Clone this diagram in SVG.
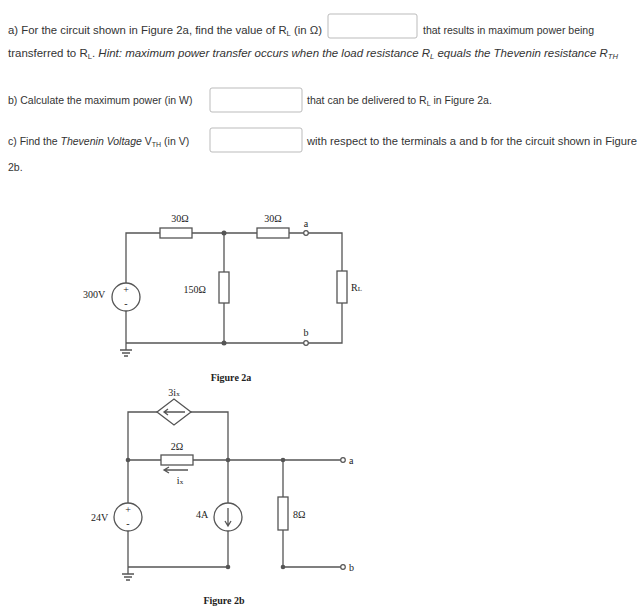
<svg xmlns="http://www.w3.org/2000/svg" width="639" height="606" viewBox="0 0 639 606">
<style>
.t{font-family:"Liberation Sans",Arial,sans-serif;font-size:10.5px;fill:#333}
.c{font-family:"Liberation Serif","Times New Roman",serif;font-size:10px;fill:#222}
.b{font-weight:bold}
.w{fill:none;stroke:#555;stroke-width:1.3}
.r{fill:#fff;stroke:#555;stroke-width:1.3}
.box{fill:#fff;stroke:#bbb;stroke-width:1}
.d{fill:#555}
.o{fill:#fff;stroke:#555;stroke-width:1.2}
</style>
<rect width="639" height="606" fill="#fff"/>
<g id="text">
<text class="t" x="8" y="34" textLength="314" lengthAdjust="spacingAndGlyphs">a) For the circuit shown in Figure 2a, find the value of R<tspan font-size="7" dy="2">L</tspan><tspan dy="-2"> (in Ω)</tspan></text>
<rect class="box" x="328" y="14" width="89" height="24" rx="2"/>
<text class="t" x="423" y="34">that results in maximum power being</text>
<text class="t" x="8" y="57" textLength="610" lengthAdjust="spacingAndGlyphs">transferred to R<tspan font-size="7" dy="2">L</tspan><tspan dy="-2">. </tspan><tspan font-style="italic">Hint: maximum power transfer occurs when the load resistance R<tspan font-size="7" dy="2">L</tspan><tspan dy="-2"> equals the Thevenin resistance R</tspan><tspan font-size="7" dy="2">TH</tspan></tspan></text>
<text class="t" x="8" y="104">b) Calculate the maximum power (in W)</text>
<rect class="box" x="210" y="88" width="92" height="24" rx="2"/>
<text class="t" x="307" y="104">that can be delivered to R<tspan font-size="7" dy="2">L</tspan><tspan dy="-2"> in Figure 2a.</tspan></text>
<text class="t" x="8" y="145">c) Find the <tspan font-style="italic">Thevenin Voltage</tspan> V<tspan font-size="7" dy="2">TH</tspan><tspan dy="-2"> (in V)</tspan></text>
<rect class="box" x="210" y="128" width="92" height="24" rx="2"/>
<text class="t" x="307" y="145" textLength="330" lengthAdjust="spacingAndGlyphs">with respect to the terminals a and b for the circuit shown in Figure</text>
<text class="t" x="8" y="171">2b.</text>
</g>
<g id="connectors">
<path class="w" d="M126,233H342V343H126Z M224,233V343 M126,343V350"/>
<path class="w" d="M120,350H132 M122,353H130 M124,356H128"/>
<path class="w" d="M128,412H228V567H128Z M128,460H343 M283,460V567 M283,567H343 M128,567V574"/>
<path class="w" d="M122,574H134 M124,577H132 M126,580H130"/>
</g>
<g id="fig2a">
<rect class="r" x="160" y="228" width="32" height="10"/>
<rect class="r" x="257" y="228" width="32" height="10"/>
<rect class="r" x="219" y="272" width="10" height="31"/>
<rect class="r" x="337" y="271" width="10" height="32"/>
<circle class="r" cx="126" cy="297" r="14"/>
<text class="c" x="126" y="293" text-anchor="middle" font-size="9">+</text>
<text class="c" x="126" y="307" text-anchor="middle" font-size="9">-</text>
<circle class="d" cx="224" cy="233" r="2.5"/>
<circle class="d" cx="224" cy="343" r="2.5"/>
<circle class="o" cx="306" cy="233" r="2.3"/>
<circle class="o" cx="306" cy="343" r="2.3"/>
<text class="c" x="180" y="222" text-anchor="middle">30Ω</text>
<text class="c" x="273" y="222" text-anchor="middle">30Ω</text>
<text class="c" x="306" y="227" text-anchor="middle">a</text>
<text class="c" x="306" y="336" text-anchor="middle">b</text>
<text class="c" x="206" y="293" text-anchor="end">150Ω</text>
<text class="c" x="83" y="298">300V</text>
<text class="c" x="351" y="291">R<tspan font-size="7">L</tspan></text>
<text class="c b" x="231" y="381" text-anchor="middle">Figure 2a</text>
</g>
<g id="fig2b">
<path class="r" d="M157,412L174,399L191,412L174,425Z"/>
<path class="w" d="M185,412H165 M168,409L164,412L168,415"/>
<rect class="r" x="161" y="455" width="32" height="10"/>
<path class="w" d="M188,470H165 M169,467L164,470L169,473"/>
<circle class="r" cx="128" cy="517" r="14"/>
<text class="c" x="128" y="513" text-anchor="middle" font-size="9">+</text>
<text class="c" x="128" y="527" text-anchor="middle" font-size="9">-</text>
<circle class="r" cx="228" cy="517" r="14"/>
<path class="w" d="M228,508V525 M225,521L228,526L231,521"/>
<rect class="r" x="278" y="497" width="10" height="33"/>
<circle class="d" cx="128" cy="460" r="2.3"/>
<circle class="d" cx="228" cy="460" r="2.3"/>
<circle class="d" cx="283" cy="460" r="2.3"/>
<circle class="d" cx="228" cy="567" r="2.3"/>
<circle class="d" cx="283" cy="567" r="2.3"/>
<circle class="o" cx="343" cy="460" r="2.3"/>
<circle class="o" cx="343" cy="567" r="2.3"/>
<text class="c" x="174" y="396" text-anchor="middle">3i<tspan font-size="7">x</tspan></text>
<text class="c" x="177" y="450" text-anchor="middle">2Ω</text>
<text class="c" x="180" y="484" text-anchor="middle">i<tspan font-size="7">x</tspan></text>
<text class="c" x="91" y="521">24V</text>
<text class="c" x="196" y="518">4A</text>
<text class="c" x="293" y="518">8Ω</text>
<text class="c" x="349" y="464">a</text>
<text class="c" x="349" y="571">b</text>
<text class="c b" x="224" y="604" text-anchor="middle">Figure 2b</text>
</g>
</svg>
